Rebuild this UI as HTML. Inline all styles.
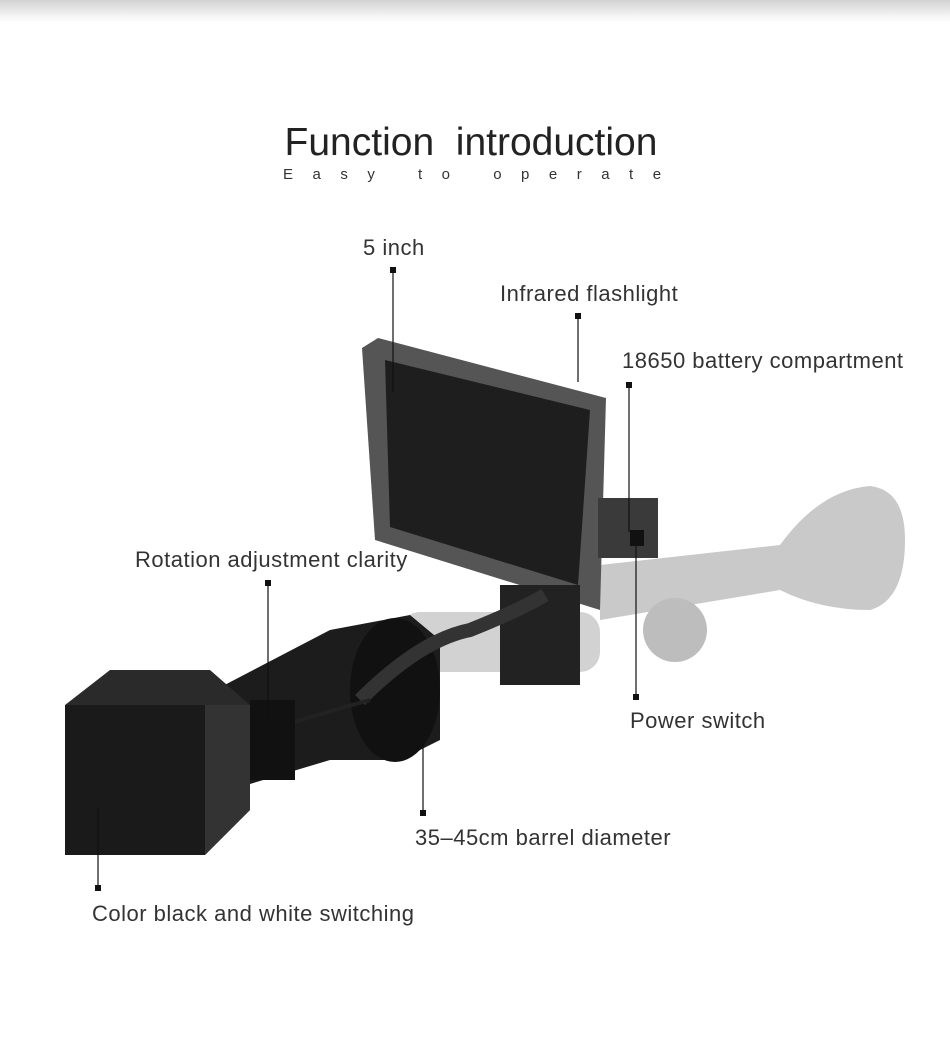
<!DOCTYPE html>
<html><head><meta charset="utf-8"><style>
html,body{margin:0;padding:0;background:#fff;}
body{width:950px;height:1041px;position:relative;overflow:hidden;font-family:"Liberation Sans",sans-serif;}
.top{position:absolute;left:0;top:0;width:950px;height:24px;background:linear-gradient(#d2d2d2,#f6f6f6 70%,#fff);}
.t{position:absolute;color:#333;font-size:22px;letter-spacing:0.5px;white-space:nowrap;font-weight:300;}
h1{position:absolute;left:0;width:942px;text-align:center;top:121px;margin:0;font-weight:400;font-size:39px;color:#222;}
.sub{position:absolute;left:283px;top:166px;font-size:15px;letter-spacing:19.5px;color:#333;}
</style></head><body>
<div class="top"></div>
<h1>Function&nbsp; introduction</h1>
<div class="sub">Easy to operate</div>
<svg width="950" height="1041" style="position:absolute;left:0;top:0">
<g fill="#c9c9c9">
<path d="M600 565 L780 545 Q820 490 870 486 Q905 490 905 540 Q905 600 870 610 Q820 610 780 590 L600 620 Z"/>
<rect x="400" y="612" width="200" height="60" rx="20" fill="#d2d2d2"/>
<circle cx="675" cy="630" r="32" fill="#bdbdbd"/>
</g>
<path d="M362 348 L378 338 L606 398 L600 610 L375 540 Z" fill="#555"/>
<path d="M385 360 L590 410 L578 585 L390 527 Z" fill="#1e1e1e"/>
<rect x="598" y="498" width="60" height="60" fill="#3a3a3a"/>
<rect x="630" y="530" width="14" height="16" fill="#111"/>
<rect x="500" y="585" width="80" height="100" fill="#222"/>
<path d="M215 690 L330 630 L410 615 L440 640 L440 740 L400 760 L330 760 L230 790 Z" fill="#1c1c1c"/>
<ellipse cx="395" cy="690" rx="45" ry="72" fill="#111"/>
<path d="M360 700 Q420 640 470 630 Q520 610 545 595" stroke="#333" stroke-width="14" fill="none"/>
<path d="M160 770 Q260 730 370 700" stroke="#222" stroke-width="4" fill="none"/>
<path d="M65 705 L110 670 L210 670 L250 705 L250 810 L205 855 L65 855 Z" fill="#2a2a2a"/>
<path d="M65 705 L205 705 L205 855 L65 855 Z" fill="#1a1a1a"/>
<path d="M205 705 L250 705 L250 810 L205 855 Z" fill="#333"/>
<rect x="250" y="700" width="45" height="80" fill="#111"/>
<g stroke="#111" stroke-width="1.2">
<line x1="393" y1="270" x2="393" y2="392"/>
<line x1="578" y1="316" x2="578" y2="382"/>
<line x1="629" y1="385" x2="629" y2="532"/>
<line x1="268" y1="583" x2="268" y2="722"/>
<line x1="636" y1="540" x2="636" y2="697"/>
<line x1="423" y1="738" x2="423" y2="813"/>
<line x1="98" y1="808" x2="98" y2="888"/>
</g>
<g fill="#111">
<rect x="390" y="267" width="6" height="6"/>
<rect x="575" y="313" width="6" height="6"/>
<rect x="626" y="382" width="6" height="6"/>
<rect x="265" y="580" width="6" height="6"/>
<rect x="633" y="694" width="6" height="6"/>
<rect x="420" y="810" width="6" height="6"/>
<rect x="95" y="885" width="6" height="6"/>
</g>
</svg>
<div class="t" style="left:363px;top:235px">5 inch</div>
<div class="t" style="left:500px;top:281px">Infrared flashlight</div>
<div class="t" style="left:622px;top:348px">18650 battery compartment</div>
<div class="t" style="left:135px;top:547px">Rotation adjustment clarity</div>
<div class="t" style="left:630px;top:708px">Power switch</div>
<div class="t" style="left:415px;top:825px">35–45cm barrel diameter</div>
<div class="t" style="left:92px;top:901px">Color black and white switching</div>
</body></html>
